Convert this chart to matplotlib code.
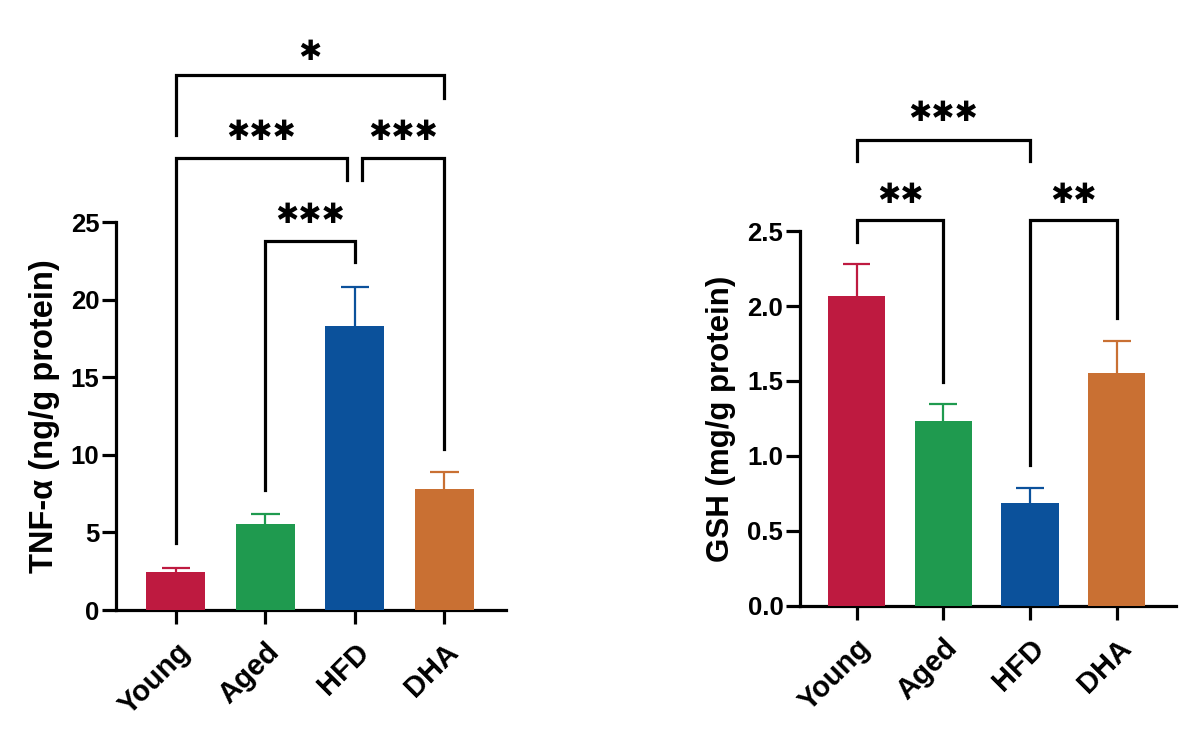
import numpy as np
import matplotlib.pyplot as plt

plt.rcParams['font.family'] = ['Liberation Sans', 'DejaVu Sans']
plt.rcParams['font.weight'] = 'bold'

groups = ['Young', 'Aged', 'HFD', 'DHA']
colors = ['#BE1A40', '#1F9A4F', '#0B519B', '#C97033']

tnf_mean = [2.47, 5.54, 18.3, 7.78]
tnf_sem = [0.26, 0.65, 2.53, 1.13]
gsh_mean = [2.07, 1.233, 0.684, 1.556]
gsh_sem = [0.21, 0.111, 0.105, 0.213]

LW = 2.3


def bracket(ax, x1, x2, y, e1, e2, n, ty, tx=None):
    ax.plot([x1, x1, x2, x2], [e1, y, y, e2], color='black', lw=LW,
            clip_on=False, solid_joinstyle='miter', zorder=5)
    if tx is None:
        tx = (x1 + x2) / 2
    ax.text(tx, ty, '\u2731' * n, ha='center', va='center', fontsize=20,
            family='DejaVu Sans', clip_on=False)


def bars(ax, means, sems, xlim, ylim, yticks, ylabel):
    x = np.arange(len(groups))
    means = np.array(means)
    sems = np.array(sems)
    ax.bar(x, means, width=0.66, color=colors, zorder=3)
    # upper error bars only
    ax.vlines(x, means, means + sems, colors=colors, lw=1.6, zorder=2)
    ax.hlines(means + sems, x - 0.16, x + 0.16, colors=colors, lw=1.6, zorder=2)
    ax.set_xlim(*xlim)
    ax.set_ylim(*ylim)
    ax.set_yticks(yticks)
    ax.set_xticks(x)
    ax.set_xticklabels(groups, rotation=45, ha='right', rotation_mode='anchor',
                       fontsize=21, fontweight='bold')
    for lab in ax.get_yticklabels():
        lab.set_fontsize(18.5)
        lab.set_fontweight('bold')
    ax.set_ylabel(ylabel, fontsize=23.5, fontweight='bold', labelpad=8)
    for side in ['top', 'right']:
        ax.spines[side].set_visible(False)
    for side in ['left', 'bottom']:
        ax.spines[side].set_linewidth(LW)
    ax.tick_params(axis='y', width=LW, length=10, pad=2)
    ax.tick_params(axis='x', width=LW, length=10, pad=10)


fig = plt.figure(figsize=(12, 7.51), dpi=100)
ax1 = fig.add_axes([0.0967, 0.1877, 0.325, 0.5166])
ax2 = fig.add_axes([0.6667, 0.1931, 0.3131, 0.4993])

bars(ax1, tnf_mean, tnf_sem, (-0.67, 3.69), (0, 25), [0, 5, 10, 15, 20, 25],
     'TNF-α (ng/g protein)')
ax1.yaxis.set_major_formatter(plt.FormatStrFormatter('%d'))
bars(ax2, gsh_mean, gsh_sem, (-0.652, 3.68), (0, 2.5),
     [0, 0.5, 1.0, 1.5, 2.0, 2.5], 'GSH (mg/g protein)')
ax2.yaxis.set_major_formatter(plt.FormatStrFormatter('%.1f'))
ax2.yaxis.label.set_fontsize(22.5)

# significance brackets, TNF-α
bracket(ax1, 0, 3, 34.47, 30.6, 33.0, 1, 35.95)
bracket(ax1, 0, 1.915, 29.14, 4.32, 27.7, 3, 30.8, tx=0.95)
bracket(ax1, 2.085, 3, 29.14, 27.7, 10.37, 3, 30.8, tx=2.54)
bracket(ax1, 1, 2, 23.8, 7.73, 22.4, 3, 25.45)

# significance brackets, GSH
bracket(ax2, 0, 2, 3.107, 2.967, 2.967, 3, 3.287)
bracket(ax2, 0, 1, 2.573, 2.427, 1.495, 2, 2.74)
bracket(ax2, 2, 3, 2.573, 0.94, 1.918, 2, 2.74)

fig.savefig('out.png', dpi=100)
